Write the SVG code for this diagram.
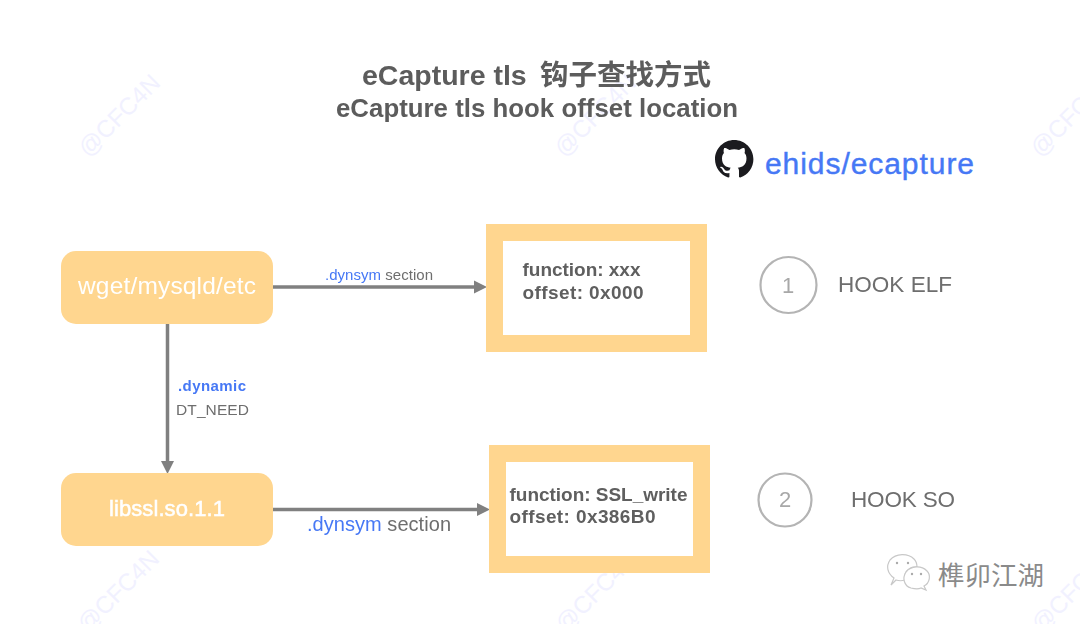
<svg xmlns="http://www.w3.org/2000/svg" width="1080" height="624" viewBox="0 0 1080 624">
<defs>
<marker id="arrow" markerUnits="userSpaceOnUse" markerWidth="14" markerHeight="14" refX="6" refY="7" orient="auto"><path d="M0,0.5 L13,7 L0,13.5 Z" fill="#808080"/></marker>
<filter id="soft" x="-5%" y="-20%" width="110%" height="140%"><feGaussianBlur stdDeviation="0.4"/></filter>
</defs>
<style>
text{font-family:"Liberation Sans","Noto Sans CJK SC",sans-serif}
.wm{font-size:24px;fill:#f1f1ff}
.title{font-weight:700;fill:#5c5c5c}
.box{fill:#FFD68F}
.inner{fill:#fff}
.boxt{fill:#fff}
.fn{font-size:19px;fill:#5f5f5f;font-weight:700}
.lbl{fill:#6e6e6e}
.blue{fill:#4678f5}
.conn{stroke:#808080;stroke-width:3.5;fill:none;marker-end:url(#arrow)}
.ring{fill:#fff;stroke:#b4b4b4;stroke-width:2.2}
.num{font-size:22px;fill:#a8a8a8;text-anchor:middle}
.hook{font-size:22.5px;fill:#6e6e6e}
</style>
<rect width="1080" height="624" fill="#fff"/>
<g id="watermarks">
<text class="wm" transform="translate(88,158) rotate(-45)">@CFC4N</text>
<text class="wm" transform="translate(564,158) rotate(-45)">@CFC4N</text>
<text class="wm" transform="translate(1040,158) rotate(-45)">@CFC4N</text>
<text class="wm" transform="translate(87,634) rotate(-45)">@CFC4N</text>
<text class="wm" transform="translate(565,634) rotate(-45)">@CFC4N</text>
<text class="wm" transform="translate(1041,634) rotate(-45)">@CFC4N</text>
</g>
<g id="title" filter="url(#soft)">
<text class="title" x="362" y="85" font-size="28.500">eCapture tls <tspan x="540">钩子查找方式</tspan></text>
<text class="title" x="336" y="117" font-size="25.800" textLength="402" lengthAdjust="spacing">eCapture tls hook offset location</text>
</g>
<g id="github">
<path transform="translate(715,140) scale(2.4)" fill="#1b1b1f" fill-rule="evenodd" d="M8 0C3.58 0 0 3.58 0 8c0 3.54 2.29 6.53 5.47 7.59.4.07.55-.17.55-.38 0-.19-.01-.82-.01-1.49-2.01.37-2.53-.49-2.69-.94-.09-.23-.48-.94-.82-1.13-.28-.15-.68-.52-.01-.53.63-.01 1.08.58 1.23.82.72 1.21 1.87.87 2.33.66.07-.52.28-.87.51-1.07-1.78-.2-3.64-.89-3.64-3.95 0-.87.31-1.59.82-2.15-.08-.2-.36-1.02.08-2.12 0 0 .67-.21 2.2.82.64-.18 1.32-.27 2-.27s1.36.09 2 .27c1.53-1.04 2.2-.82 2.2-.82.44 1.1.16 1.92.08 2.12.51.56.82 1.27.82 2.15 0 3.07-1.87 3.75-3.65 3.95.29.25.54.73.54 1.48 0 1.07-.01 1.93-.01 2.2 0 .21.15.46.55.38A8.01 8.01 0 0 0 16 8c0-4.42-3.58-8-8-8z"/>
<text x="765" y="174" font-size="30" class="blue" stroke="#4678f5" stroke-width="0.4" textLength="209" lengthAdjust="spacing">ehids/ecapture</text>
</g>
<g id="connectors">
<line class="conn" x1="273" y1="287" x2="480" y2="287"/>
<line class="conn" x1="167.500" y1="324" x2="167.500" y2="467"/>
<line class="conn" x1="273" y1="509.500" x2="483" y2="509.500"/>
</g>
<g id="connector-labels" filter="url(#soft)">
<text x="325" y="280" font-size="15" textLength="108" lengthAdjust="spacing"><tspan class="blue">.dynsym</tspan><tspan class="lbl"> section</tspan></text>
<text x="178" y="391" font-size="15" font-weight="700" class="blue" textLength="68" lengthAdjust="spacing">.dynamic</text>
<text x="176" y="415" font-size="15.500" class="lbl" textLength="73" lengthAdjust="spacing">DT_NEED</text>
<text x="307" y="531" font-size="20" textLength="144" lengthAdjust="spacing"><tspan class="blue">.dynsym</tspan><tspan class="lbl"> section</tspan></text>
</g>
<g id="node-wget" filter="url(#soft)">
<rect class="box" x="61" y="251" width="212" height="73" rx="15"/>
<text class="boxt" x="78" y="294" font-size="24.500" textLength="178" lengthAdjust="spacing">wget/mysqld/etc</text>
</g>
<g id="node-libssl" filter="url(#soft)">
<rect class="box" x="61" y="473" width="212" height="73" rx="15"/>
<text class="boxt" x="109" y="516" font-size="22" stroke="#fff" stroke-width="0.5" textLength="116" lengthAdjust="spacing">libssl.so.1.1</text>
</g>
<g id="node-elf" filter="url(#soft)">
<rect class="box" x="486" y="224" width="221" height="128"/>
<rect class="inner" x="503" y="241" width="187" height="94"/>
<text class="fn" x="522.500" y="276" textLength="118" lengthAdjust="spacing">function: xxx</text>
<text class="fn" x="522.500" y="299" textLength="121" lengthAdjust="spacing">offset: 0x000</text>
</g>
<g id="node-so" filter="url(#soft)">
<rect class="box" x="489" y="445" width="221" height="128"/>
<rect class="inner" x="506" y="462" width="187" height="94"/>
<text class="fn" x="509.500" y="501" textLength="178" lengthAdjust="spacing">function: SSL_write</text>
<text class="fn" x="509.500" y="523" textLength="146" lengthAdjust="spacing">offset: 0x386B0</text>
</g>
<g id="legend-1" filter="url(#soft)">
<circle class="ring" cx="788.500" cy="285" r="28"/>
<text class="num" x="788" y="293">1</text>
<text class="hook" x="838" y="292" textLength="114" lengthAdjust="spacing">HOOK ELF</text>
</g>
<g id="legend-2" filter="url(#soft)">
<circle class="ring" cx="785" cy="500" r="26.500"/>
<text class="num" x="785" y="507">2</text>
<text class="hook" x="851" y="507" textLength="104" lengthAdjust="spacing">HOOK SO</text>
</g>
<g id="wechat-mark" fill="#fff" stroke="#c8c8c8" stroke-width="1.2">
<path d="M891,585 L894,578 C887,573 886,566 890,560 C896,553 908,553 914,559 C917,562 917,565 917,567 C909,566 903,573 905,580 C902,581 899,581 896,580 Z"/>
<path d="M926,590 L924,586 C930,583 931,575 927,571 C921,565 911,566 906,572 C902,578 904,586 911,588 C915,589 919,589 921,588 Z"/>
<g fill="#aaa" stroke="none"><circle cx="897" cy="563" r="1.200"/><circle cx="908" cy="563" r="1.200"/><circle cx="912" cy="574" r="1.200"/><circle cx="921" cy="574" r="1.200"/></g>
<text x="938" y="585" font-size="26.500" fill="#8a8a8a" stroke="none" style="font-family:'Noto Sans CJK SC','Liberation Sans',sans-serif">榫卯江湖</text>
</g>
</svg>
